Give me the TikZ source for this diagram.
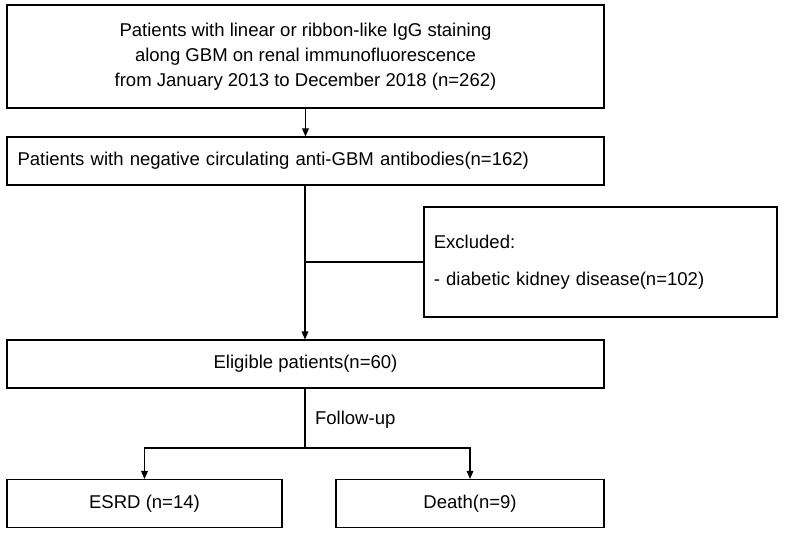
\documentclass[tikz,border=0pt]{standalone}
\usepackage{fontspec}
\setmainfont{Liberation Sans}
\usetikzlibrary{arrows.meta,positioning}
\tikzset{
  block/.style={rectangle, draw, thick, align=center, minimum height=36pt, inner sep=0pt},
  line/.style={-{Triangle[length=6pt,width=5pt]}, thick},
  plain/.style={thick}
}
\begin{document}
\begin{tikzpicture}[x=0.75pt, y=-0.75pt, font=\fontsize{13.9}{18.75}\selectfont]
  \useasboundingbox (0,0) rectangle (785,532);
  \node[block, minimum width=447.75pt, minimum height=77.25pt] (screen) at (305.5,56.5) {Patients with linear or ribbon-like IgG staining\\along GBM on renal immunofluorescence\\from January 2013 to December 2018 (n=262)};
  \node[block, minimum width=447.75pt, text width=432pt, align=left] (negative) at (305.5,161) {Patients with negative circulating anti-GBM antibodies(n=162)};
  \node[block, minimum width=264.75pt, minimum height=82.5pt, text width=250pt, align=left] (excluded) at (600.5,262) {Excluded:\\[9pt]- diabetic kidney disease(n=102)};
  \node[block, minimum width=447.75pt] (eligible) at (305.5,364) {Eligible patients(n=60)};
  \node[block, minimum width=206.25pt] (esrd) at (144.5,503.5) {ESRD (n=14)};
  \node[block, minimum width=201pt] (death) at (470,503.5) {Death(n=9)};
  \coordinate (split) at (305,262);
  \coordinate (fork) at (305,448);
  \draw[line] (screen) -- (negative);
  \draw[line] (negative.south -| split) -- (eligible.north -| split);
  \draw[plain] (split) -- (excluded.west |- split);
  \draw[plain] (eligible.south -| fork) -- (fork);
  \node[right=4pt of fork, yshift=21pt, anchor=west] (followup) {Follow-up};
  \draw[line] (fork) -| (esrd.north);
  \draw[line] (fork) -| (death.north);
\end{tikzpicture}
\end{document}
